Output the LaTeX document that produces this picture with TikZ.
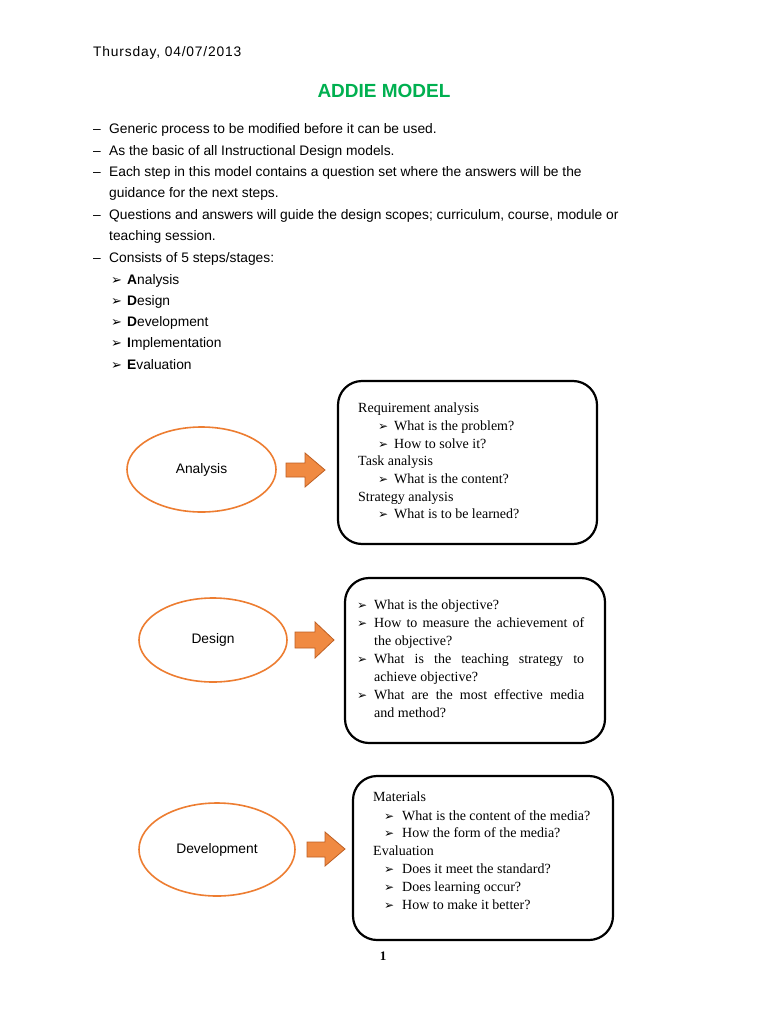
\documentclass[tikz,border=0pt]{standalone}
\usepackage{fontspec}
\setmainfont{Liberation Serif}
\newfontfamily\comic{Liberation Sans}
\newfontfamily\dingfont{DejaVu Sans}
\usetikzlibrary{shapes.geometric}
\definecolor{ttlgreen}{RGB}{0,176,80}
\definecolor{ellorange}{RGB}{237,125,49}
\definecolor{arrfill}{RGB}{240,138,66}
\definecolor{arrline}{RGB}{190,95,35}
\begin{document}
\begin{tikzpicture}[x=1pt,y=-1pt,
  ctext/.style={anchor=base west, inner sep=0, font=\comic\fontsize{13.8}{15}\selectfont},
  btext/.style={anchor=base west, inner sep=0, font=\fontsize{14}{16}\selectfont},
  cbul/.style={anchor=base west, inner sep=0, font=\dingfont\fontsize{12}{13}\selectfont},
  lbul/.style={anchor=base west, inner sep=0, font=\dingfont\fontsize{13}{14}\selectfont},
  stage/.style={draw=ellorange, line width=1.6pt, ellipse, inner sep=0, font=\comic\fontsize{13.8}{15}\selectfont},
  qbox/.style={draw=black, line width=2.2pt, rounded corners=24pt, inner sep=0},
  blockarrow/.style={fill=arrfill, draw=arrline, line width=0.8pt, line join=miter},
]
\useasboundingbox (0,0) rectangle (768,1024);
\fill[white] (0,0) rectangle (768,1024);

% header
\node[ctext, font=\comic\fontsize{13.8}{15}\selectfont\addfontfeature{LetterSpace=6}] (date) at (93,57) {Thursday, 04/07/2013};
\node[anchor=base, inner sep=0, text=ttlgreen, font=\comic\bfseries\fontsize{19}{21}\selectfont] (title) at (384,98) {ADDIE MODEL};

% dash list
\foreach \yy/\nm in {129/d1,151/d2,172/d3,215/d4,258/d5}{
  \node[ctext] (\nm) at (93,\yy+4.5) {–};
}
\node[ctext] (l1) at (109,133.5) {Generic process to be modified before it can be used.};
\node[ctext] (l2) at (109,155.5) {As the basic of all Instructional Design models.};
\node[ctext] (l3) at (109,176.5) {Each step in this model contains a question set where the answers will be the};
\node[ctext] (l3b) at (109,197.5) {guidance for the next steps.};
\node[ctext] (l4) at (109,219.5) {Questions and answers will guide the design scopes; curriculum, course, module or};
\node[ctext] (l4b) at (109,240.5) {teaching session.};
\node[ctext] (l5) at (109,262.5) {Consists of 5 steps/stages:};

% stage list
\foreach \yy/\nm in {280/s1,301/s2,322/s3,343/s4,365/s5}{
  \node[lbul] (b\nm) at (111,\yy+4.5) {➢};
}
\node[ctext] (s1) at (127,284.5) {\textbf{A}nalysis};
\node[ctext] (s2) at (127,305.5) {\textbf{D}esign};
\node[ctext] (s3) at (127,326.5) {\textbf{D}evelopment};
\node[ctext] (s4) at (127,347.5) {\textbf{I}mplementation};
\node[ctext] (s5) at (127,369.5) {\textbf{E}valuation};

% ---- Analysis
\node[stage, minimum width=149pt, minimum height=85pt] (e1) at (201.5,469.5) {Analysis};
\node[qbox, minimum width=259pt, minimum height=163pt] (q1) at (467.5,462.5) {};
\draw[blockarrow] (286,463)--(305,463)--(305,453)--(325,470)--(305,487)--(305,477)--(286,477)--cycle;
\node[btext] (t11) at (358,412.5) {Requirement analysis};
\node[cbul] (u12) at (378,430) {➢};
\node[btext] (t12) at (394,430) {What is the problem?};
\node[cbul] (u13) at (378,448) {➢};
\node[btext] (t13) at (394,448) {How to solve it?};
\node[btext] (t14) at (358,465.5) {Task analysis};
\node[cbul] (u15) at (378,483) {➢};
\node[btext] (t15) at (394,483) {What is the content?};
\node[btext] (t16) at (358,501) {Strategy analysis};
\node[cbul] (u17) at (378,518.5) {➢};
\node[btext] (t17) at (394,518.5) {What is to be learned?};

% ---- Design
\node[stage, minimum width=148pt, minimum height=84pt] (e2) at (213,640) {Design};
\node[qbox, minimum width=260pt, minimum height=165pt] (q2) at (475,660.5) {};
\draw[blockarrow] (295,632)--(315,632)--(315,622)--(334,640)--(315,658)--(315,648)--(295,648)--cycle;
\node[cbul] (u21) at (357,609.5) {➢};
\node[btext] (t21) at (374,609.5) {What is the objective?};
\node[cbul] (u22) at (357,627.5) {➢};
\node[btext] (t22) at (374,627.5) {\makebox[210pt][s]{How to measure the achievement of}};
\node[btext] (t23) at (374,645.5) {the objective?};
\node[cbul] (u24) at (357,663.5) {➢};
\node[btext] (t24) at (374,663.5) {\makebox[210pt][s]{What is the teaching strategy to}};
\node[btext] (t25) at (374,681.5) {achieve objective?};
\node[cbul] (u26) at (357,699) {➢};
\node[btext] (t26) at (374,699) {\makebox[210pt][s]{What are the most effective media}};
\node[btext] (t27) at (374,717) {and method?};

% ---- Development
\node[stage, minimum width=156pt, minimum height=93pt] (e3) at (217,849.5) {Development};
\node[qbox, minimum width=260pt, minimum height=164pt] (q3) at (483,858) {};
\draw[blockarrow] (307,842)--(325,842)--(325,832)--(345,849)--(325,866)--(325,857)--(307,857)--cycle;
\node[btext] (t31) at (373,801.5) {Materials};
\node[cbul] (u32) at (384,820.5) {➢};
\node[btext] (t32) at (402,820.5) {What is the content of the media?};
\node[cbul] (u33) at (384,837.5) {➢};
\node[btext] (t33) at (402,837.5) {How the form of the media?};
\node[btext] (t34) at (373,855.5) {Evaluation};
\node[cbul] (u35) at (384,873.5) {➢};
\node[btext] (t35) at (402,873.5) {Does it meet the standard?};
\node[cbul] (u36) at (384,891.5) {➢};
\node[btext] (t36) at (402,891.5) {Does learning occur?};
\node[cbul] (u37) at (384,909.5) {➢};
\node[btext] (t37) at (402,909.5) {How to make it better?};

% page number
\node[anchor=base, inner sep=0, font=\bfseries\fontsize{13}{15}\selectfont] (pg) at (383,960) {1};
\end{tikzpicture}
\end{document}
